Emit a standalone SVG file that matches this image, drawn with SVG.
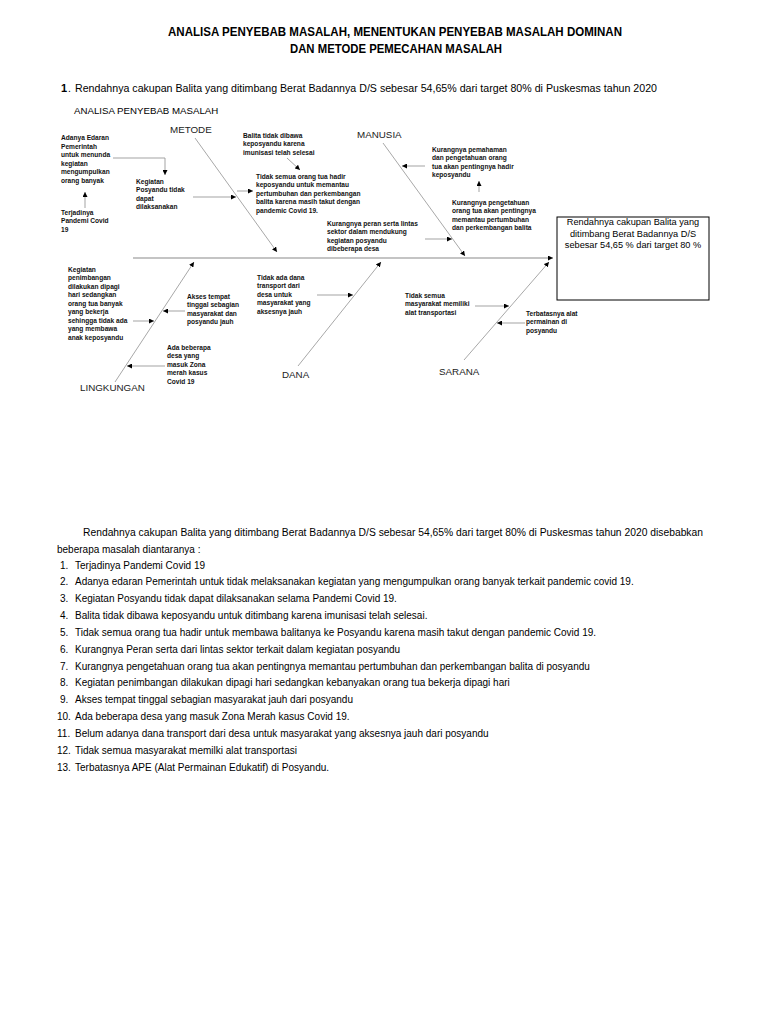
<svg xmlns="http://www.w3.org/2000/svg" width="768" height="1024" viewBox="0 0 768 1024">
<style>
.t{font-family:"Liberation Sans",Arial,sans-serif;fill:#000}
.title{font-size:12px;font-weight:bold}
.body{font-size:10px}
.tiny{font-size:6.6px;font-weight:bold;fill:#111}
.lab{font-size:9.8px;fill:#222}
.box{font-size:9.2px}
.bone{stroke:#a8a8a8;stroke-width:1;fill:none}
.sub{stroke:#999;stroke-width:0.9;fill:none}
.spine{stroke:#c4c4c4;stroke-width:2.2;fill:none}
</style>
<defs>
<marker id="ah" viewBox="0 0 6 6" refX="6" refY="3" markerWidth="5" markerHeight="5" orient="auto" markerUnits="userSpaceOnUse">
<path d="M0,0 L6,3 L0,6 z" fill="#000"/>
</marker>
</defs>
<rect width="768" height="1024" fill="#fff"/>

<g id="title">
<text class="t title" x="168" y="35.5" textLength="454" lengthAdjust="spacingAndGlyphs">ANALISA PENYEBAB MASALAH, MENENTUKAN PENYEBAB MASALAH DOMINAN</text>
<text class="t title" x="290" y="52.5" textLength="212" lengthAdjust="spacingAndGlyphs">DAN METODE PEMECAHAN MASALAH</text>
</g>
<g id="heading">
<text class="t" x="61" y="92" font-size="11" font-weight="bold">1</text>
<text class="t" x="68" y="92" font-size="10.3">.</text>
<text class="t" x="75" y="92" font-size="10.3" textLength="582" lengthAdjust="spacingAndGlyphs">Rendahnya cakupan Balita yang ditimbang Berat Badannya D/S sebesar 54,65% dari target 80% di Puskesmas tahun 2020</text>
<text class="t" x="74" y="113.5" font-size="9.7" fill="#222">ANALISA PENYEBAB MASALAH</text>
</g>

<g id="connectors">
<line class="spine" x1="133" y1="258" x2="553" y2="258" marker-end="url(#ah)"/>
<line class="bone" x1="195" y1="138" x2="277" y2="252" marker-end="url(#ah)"/>
<line class="bone" x1="383" y1="143" x2="465" y2="256" marker-end="url(#ah)"/>
<line class="bone" x1="115" y1="382" x2="194" y2="262" marker-end="url(#ah)"/>
<line class="bone" x1="298" y1="366" x2="381" y2="262" marker-end="url(#ah)"/>
<line class="bone" x1="464" y1="360" x2="549" y2="262" marker-end="url(#ah)"/>
<polyline class="sub" points="113,158 165,158 165,175" stroke="#333" marker-end="url(#ah)"/>
<line class="sub" x1="85" y1="208" x2="85" y2="192" marker-end="url(#ah)"/>
<line class="sub" x1="193" y1="197" x2="236" y2="197" marker-end="url(#ah)"/>
<line class="sub" x1="287" y1="158" x2="300" y2="170" marker-end="url(#ah)"/>
<line class="sub" x1="237" y1="191" x2="253" y2="191" marker-end="url(#ah)"/>
<line class="sub" x1="425" y1="166" x2="402" y2="166" marker-end="url(#ah)"/>
<line class="sub" x1="479" y1="192" x2="479" y2="181" marker-end="url(#ah)"/>
<line class="sub" x1="425" y1="239" x2="452" y2="239" marker-end="url(#ah)"/>
<line class="sub" x1="133" y1="321" x2="154" y2="321" marker-end="url(#ah)"/>
<line class="sub" x1="185" y1="311" x2="163" y2="311" marker-end="url(#ah)"/>
<line class="sub" x1="165" y1="366" x2="127" y2="366" marker-end="url(#ah)"/>
<line class="sub" x1="317" y1="295" x2="353" y2="295" marker-end="url(#ah)"/>
<line class="sub" x1="475" y1="306" x2="509" y2="306" marker-end="url(#ah)"/>
<line class="sub" x1="525" y1="323" x2="497" y2="323" marker-end="url(#ah)"/>
</g>

<g id="effect">
<rect x="557" y="217" width="152" height="83" fill="#fff" stroke="#000" stroke-width="1"/>
<text class="t box" text-anchor="middle" x="633" y="225">Rendahnya cakupan Balita yang</text>
<text class="t box" text-anchor="middle" x="633" y="236.5">ditimbang Berat Badannya D/S</text>
<text class="t box" text-anchor="middle" x="633" y="248">sebesar 54,65 % dari target 80 %</text>
</g>

<g id="label-metode"><text class="t lab" x="170" y="132.5">METODE</text></g>
<g id="label-manusia"><text class="t lab" x="357" y="137.5">MANUSIA</text></g>
<g id="label-lingkungan"><text class="t lab" x="80" y="390.5">LINGKUNGAN</text></g>
<g id="label-dana"><text class="t lab" x="282" y="377.5">DANA</text></g>
<g id="label-sarana"><text class="t lab" x="439" y="374.5">SARANA</text></g>

<g id="cause-edaran">
<text class="t tiny" x="61" y="140">Adanya Edaran</text>
<text class="t tiny" x="61" y="148.6">Pemerintah</text>
<text class="t tiny" x="61" y="157.2">untuk menunda</text>
<text class="t tiny" x="61" y="165.8">kegiatan</text>
<text class="t tiny" x="61" y="174.4">mengumpulkan</text>
<text class="t tiny" x="61" y="183">orang banyak</text>
</g>
<g id="cause-pandemi">
<text class="t tiny" x="61" y="214.5">Terjadinya</text>
<text class="t tiny" x="61" y="223">Pandemi Covid</text>
<text class="t tiny" x="61" y="231.5">19</text>
</g>
<g id="cause-kegiatan">
<text class="t tiny" x="136" y="183.5">Kegiatan</text>
<text class="t tiny" x="136" y="192">Posyandu tidak</text>
<text class="t tiny" x="136" y="200.5">dapat</text>
<text class="t tiny" x="136" y="209">dilaksanakan</text>
</g>
<g id="cause-balita">
<text class="t tiny" x="243" y="137.5">Balita tidak dibawa</text>
<text class="t tiny" x="243" y="146">keposyandu karena</text>
<text class="t tiny" x="243" y="154.5">imunisasi telah selesai</text>
</g>
<g id="cause-orangtua">
<text class="t tiny" x="256" y="178.5">Tidak semua orang tua hadir</text>
<text class="t tiny" x="256" y="187">keposyandu untuk memantau</text>
<text class="t tiny" x="256" y="195.5">pertumbuhan dan perkembangan</text>
<text class="t tiny" x="256" y="204">balita karena masih takut dengan</text>
<text class="t tiny" x="256" y="212.5">pandemic Covid 19.</text>
</g>
<g id="cause-pemahaman">
<text class="t tiny" x="432" y="151.5">Kurangnya pemahaman</text>
<text class="t tiny" x="432" y="160">dan pengetahuan orang</text>
<text class="t tiny" x="432" y="168.5">tua akan pentingnya hadir</text>
<text class="t tiny" x="432" y="177">keposyandu</text>
</g>
<g id="cause-pengetahuan">
<text class="t tiny" x="452" y="204.5">Kurangnya pengetahuan</text>
<text class="t tiny" x="452" y="213">orang tua akan pentingnya</text>
<text class="t tiny" x="452" y="221.5">memantau pertumbuhan</text>
<text class="t tiny" x="452" y="230">dan perkembangan balita</text>
</g>
<g id="cause-lintas">
<text class="t tiny" x="327" y="225.5">Kurangnya peran serta lintas</text>
<text class="t tiny" x="327" y="234">sektor dalam mendukung</text>
<text class="t tiny" x="327" y="242.5">kegiatan posyandu</text>
<text class="t tiny" x="327" y="251">dibeberapa desa</text>
</g>
<g id="cause-penimbangan">
<text class="t tiny" x="68" y="271.5">Kegiatan</text>
<text class="t tiny" x="68" y="280">penimbangan</text>
<text class="t tiny" x="68" y="288.5">dilakukan dipagi</text>
<text class="t tiny" x="68" y="297">hari sedangkan</text>
<text class="t tiny" x="68" y="305.5">orang tua banyak</text>
<text class="t tiny" x="68" y="314">yang bekerja</text>
<text class="t tiny" x="68" y="322.5">sehingga tidak ada</text>
<text class="t tiny" x="68" y="331">yang membawa</text>
<text class="t tiny" x="68" y="339.5">anak keposyandu</text>
</g>
<g id="cause-akses">
<text class="t tiny" x="187" y="299">Akses tempat</text>
<text class="t tiny" x="187" y="307">tinggal sebagian</text>
<text class="t tiny" x="187" y="315.5">masyarakat dan</text>
<text class="t tiny" x="187" y="324">posyandu jauh</text>
</g>
<g id="cause-zona">
<text class="t tiny" x="167" y="349.5">Ada beberapa</text>
<text class="t tiny" x="167" y="358">desa yang</text>
<text class="t tiny" x="167" y="366.5">masuk Zona</text>
<text class="t tiny" x="167" y="375">merah kasus</text>
<text class="t tiny" x="167" y="383.5">Covid 19</text>
</g>
<g id="cause-dana">
<text class="t tiny" x="257" y="279.5">Tidak ada dana</text>
<text class="t tiny" x="257" y="288">transport dari</text>
<text class="t tiny" x="257" y="296.5">desa untuk</text>
<text class="t tiny" x="257" y="305">masyarakat yang</text>
<text class="t tiny" x="257" y="313.5">aksesnya jauh</text>
</g>
<g id="cause-transport">
<text class="t tiny" x="405" y="297.5">Tidak semua</text>
<text class="t tiny" x="405" y="306">masyarakat memiliki</text>
<text class="t tiny" x="405" y="314.5">alat transportasi</text>
</g>
<g id="cause-permainan">
<text class="t tiny" x="526" y="315.5">Terbatasnya alat</text>
<text class="t tiny" x="526" y="324">permainan di</text>
<text class="t tiny" x="526" y="332.5">posyandu</text>
</g>

<g id="summary">
<text class="t body" x="83" y="535.5" textLength="620" lengthAdjust="spacingAndGlyphs">Rendahnya cakupan Balita yang ditimbang Berat Badannya D/S sebesar 54,65% dari target 80% di Puskesmas tahun 2020 disebabkan</text>
<text class="t body" x="57" y="552.5">beberapa masalah diantaranya :</text>
<text class="t body" x="60" y="568.5">1.</text><text class="t body" x="75" y="568.5">Terjadinya Pandemi Covid 19</text>
<text class="t body" x="60" y="585.4">2.</text><text class="t body" x="75" y="585.4">Adanya edaran Pemerintah untuk tidak melaksanakan kegiatan yang mengumpulkan orang banyak terkait pandemic covid 19.</text>
<text class="t body" x="60" y="602.2">3.</text><text class="t body" x="75" y="602.2">Kegiatan Posyandu tidak dapat dilaksanakan selama Pandemi Covid 19.</text>
<text class="t body" x="60" y="619">4.</text><text class="t body" x="75" y="619">Balita tidak dibawa keposyandu untuk ditimbang karena imunisasi telah selesai.</text>
<text class="t body" x="60" y="635.9">5.</text><text class="t body" x="75" y="635.9">Tidak semua orang tua hadir untuk membawa balitanya ke Posyandu karena masih takut dengan pandemic Covid 19.</text>
<text class="t body" x="60" y="652.7">6.</text><text class="t body" x="75" y="652.7">Kurangnya Peran serta dari lintas sektor terkait dalam kegiatan posyandu</text>
<text class="t body" x="60" y="669.6">7.</text><text class="t body" x="75" y="669.6">Kurangnya pengetahuan orang tua akan pentingnya memantau pertumbuhan dan perkembangan balita di posyandu</text>
<text class="t body" x="60" y="686.4">8.</text><text class="t body" x="75" y="686.4">Kegiatan penimbangan dilakukan dipagi hari sedangkan kebanyakan orang tua bekerja dipagi hari</text>
<text class="t body" x="60" y="703.3">9.</text><text class="t body" x="75" y="703.3">Akses tempat tinggal sebagian masyarakat jauh dari posyandu</text>
<text class="t body" x="57" y="720.1">10.</text><text class="t body" x="75" y="720.1">Ada beberapa desa yang masuk Zona Merah kasus Covid 19.</text>
<text class="t body" x="57" y="737">11.</text><text class="t body" x="75" y="737">Belum adanya dana transport dari desa untuk masyarakat yang aksesnya jauh dari posyandu</text>
<text class="t body" x="57" y="753.8">12.</text><text class="t body" x="75" y="753.8">Tidak semua masyarakat memilki alat transportasi</text>
<text class="t body" x="57" y="770.7">13.</text><text class="t body" x="75" y="770.7">Terbatasnya APE (Alat Permainan Edukatif) di Posyandu.</text>
</g>
</svg>
